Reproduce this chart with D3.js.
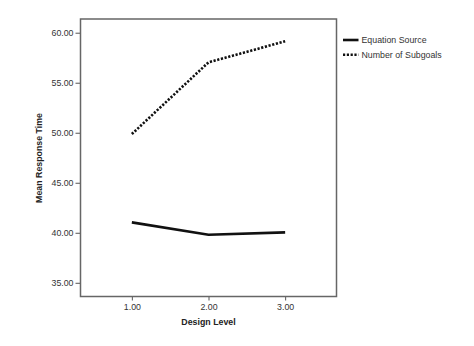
<!DOCTYPE html>
<html>
<head>
<meta charset="utf-8">
<script src="https://cdn.jsdelivr.net/npm/d3@7"></script>
<style>
  body { margin: 0; background: #fff; }
  svg text { font-family: "Liberation Sans", Arial, sans-serif; }
</style>
</head>
<body>
<div id="chart"></div>
<script>
// data
const designLevels = [1, 2, 3];
const equationSource = [41.04, 39.8, 40.04];
const numberOfSubgoals = [49.87, 57.04, 59.14];
const yTicks = [35, 40, 45, 50, 55, 60];
const seriesNames = ["Equation Source", "Number of Subgoals"];

const W = 474, H = 346;
const plot = { left: 80.5, right: 336.5, top: 19, bottom: 296.5 };
const fontSize = "8.8px";

const svg = d3.select("#chart").append("svg")
  .attr("width", W)
  .attr("height", H);

const x = d3.scaleLinear()
  .domain([0.33, 3.67])
  .range([plot.left, plot.right]);

const y = d3.scaleLinear()
  .domain([33.63, 61.37])
  .range([plot.bottom, plot.top]);

// y axis
const yAxis = svg.append("g")
  .attr("transform", `translate(${plot.left},0)`)
  .call(d3.axisLeft(y).tickValues(yTicks).tickFormat(d3.format(".2f")).tickSize(5).tickPadding(2));
yAxis.select(".domain").remove();
yAxis.selectAll(".tick line").attr("stroke", "#555");
yAxis.selectAll(".tick text").attr("fill", "#333").style("font-size", fontSize);

// x axis
const xAxis = svg.append("g")
  .attr("transform", `translate(0,${plot.bottom})`)
  .call(d3.axisBottom(x).tickValues(designLevels).tickFormat(d3.format(".2f")).tickSize(4).tickPadding(3));
xAxis.select(".domain").remove();
xAxis.selectAll(".tick line").attr("stroke", "#555");
xAxis.selectAll(".tick text").attr("fill", "#333").style("font-size", fontSize);

// frame
svg.append("rect")
  .attr("x", plot.left)
  .attr("y", plot.top)
  .attr("width", plot.right - plot.left)
  .attr("height", plot.bottom - plot.top)
  .attr("fill", "none")
  .attr("stroke", "#666")
  .attr("stroke-width", 1.5);

// axis titles
svg.append("text")
  .attr("x", (plot.left + plot.right) / 2)
  .attr("y", 325)
  .attr("text-anchor", "middle")
  .style("font-size", fontSize)
  .style("font-weight", "bold")
  .attr("fill", "#222")
  .text("Design Level");

svg.append("text")
  .attr("transform", `translate(41.5,158) rotate(-90)`)
  .attr("text-anchor", "middle")
  .style("font-size", fontSize)
  .style("font-weight", "bold")
  .attr("fill", "#222")
  .text("Mean Response Time");

// lines
const line = d3.line()
  .x((d, i) => x(designLevels[i]))
  .y(d => y(d));

const dashes = [null, "2.2,1.6"];
[equationSource, numberOfSubgoals].forEach((vals, k) => {
  svg.append("path")
    .datum(vals)
    .attr("d", line)
    .attr("fill", "none")
    .attr("stroke", "#111")
    .attr("stroke-width", 2.6)
    .attr("stroke-dasharray", dashes[k]);
});

// legend
seriesNames.forEach((name, k) => {
  const ly = 40 + k * 14.7;
  svg.append("line")
    .attr("x1", 343).attr("x2", 358.5)
    .attr("y1", ly).attr("y2", ly)
    .attr("stroke", "#111")
    .attr("stroke-width", 2.6)
    .attr("stroke-dasharray", dashes[k]);
  svg.append("text")
    .attr("x", 361.5)
    .attr("y", ly + 3)
    .style("font-size", fontSize)
    .attr("fill", "#333")
    .text(name);
});
</script>
</body>
</html>
